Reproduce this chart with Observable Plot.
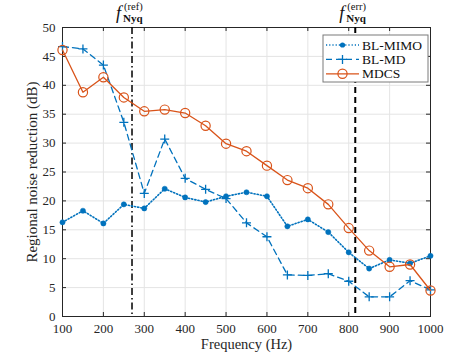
<!DOCTYPE html>
<html>
<head>
<meta charset="utf-8">
<script src="https://cdn.jsdelivr.net/npm/d3@7"></script>
<script src="https://cdn.jsdelivr.net/npm/@observablehq/plot@0.6"></script>
<style>
  html, body { margin: 0; padding: 0; background: #fff; }
  #chart { position: relative; width: 474px; height: 356px; }
</style>
</head>
<body>
<div id="chart"></div>
<script>
const freqs = [100,150,200,250,300,350,400,450,500,550,600,650,700,750,800,850,900,950,1000];
const blMimo = [16.3,18.3,16.1,19.4,18.7,22.1,20.6,19.8,20.8,21.5,20.8,15.6,16.8,14.6,11.1,8.3,9.8,9.2,10.5];
const blMd   = [46.7,46.3,43.5,33.6,21.3,30.7,23.9,22.0,20.4,16.2,13.8,7.2,7.1,7.4,6.1,3.4,3.4,6.2,4.6];
const mdcs   = [46.1,38.8,41.4,37.9,35.5,35.8,35.2,33.0,29.9,28.6,26.1,23.6,22.2,19.4,15.3,11.4,8.6,9.0,4.5];
const seriesNames = ["BL-MIMO","BL-MD","MDCS"];
const nyqFreqs = [270, 816];
const nyqTags = ["(ref)", "(err)"];
const xTicks = [100,200,300,400,500,600,700,800,900,1000];
const yTicks = [0,5,10,15,20,25,30,35,40,45,50];
const xLabel = "Frequency (Hz)";
const yLabel = "Regional noise reduction (dB)";

const blue = "#0072BD", orange = "#D95319";
const font = "'Liberation Serif', 'Times New Roman', serif";

const rows = (vals) => freqs.map((f, i) => ({f, v: vals[i]}));
const mimoRows = rows(blMimo), mdRows = rows(blMd), mdcsRows = rows(mdcs);

const plusSymbol = {
  draw(ctx, size) {
    const s = Math.sqrt(size / Math.PI);
    ctx.moveTo(-s, 0); ctx.lineTo(s, 0);
    ctx.moveTo(0, -s); ctx.lineTo(0, s);
  }
};

const W = 474, H = 356, mL = 62, mR = 44, mT = 27, mB = 40;
const innerW = W - mL - mR, innerH = H - mT - mB;
const tk = 4;

const nyq = nyqFreqs.map((f, i) => ({f, tag: nyqTags[i]}));

const chart = Plot.plot({
  width: W, height: H,
  marginLeft: mL, marginRight: mR, marginTop: mT, marginBottom: mB,
  style: {fontFamily: font, fontSize: "13px", color: "#262626", background: "#fff"},
  x: {domain: [100, 1000]},
  y: {domain: [0, 50]},
  marks: [
    Plot.gridX(xTicks, {stroke: "#e4e4e4", strokeOpacity: 1}),
    Plot.gridY(yTicks, {stroke: "#e4e4e4", strokeOpacity: 1}),
    // inner tick marks (MATLAB style)
    Plot.ruleX(xTicks, {x: d => d, insetTop: innerH - tk, stroke: "#262626"}),
    Plot.ruleX(xTicks, {x: d => d, insetBottom: innerH - tk, stroke: "#262626"}),
    Plot.ruleY(yTicks, {y: d => d, insetRight: innerW - tk, stroke: "#262626"}),
    Plot.ruleY(yTicks, {y: d => d, insetLeft: innerW - tk, stroke: "#262626"}),
    Plot.axisX(xTicks, {tickSize: 0, tickPadding: 7, label: null, fontSize: 13, tickFormat: d => String(d)}),
    Plot.axisY(yTicks, {tickSize: 0, tickPadding: 7, label: null, fontSize: 13, tickFormat: d => String(d)}),
    Plot.frame({stroke: "#262626"}),
    Plot.text([xLabel], {frameAnchor: "bottom", dy: 32, text: d => d, fontSize: 14.5, fill: "#262626"}),
    Plot.text([yLabel], {frameAnchor: "left", textAnchor: "middle", lineAnchor: "middle", rotate: -90, dx: -30, text: d => d, fontSize: 15, fill: "#262626"}),
    // Nyquist markers
    Plot.ruleX([nyq[0]], {x: "f", stroke: "#000", strokeWidth: 1.5, strokeDasharray: "7,3,1.5,3"}),
    Plot.ruleX([nyq[1]], {x: "f", stroke: "#000", strokeWidth: 2, strokeDasharray: "6,4"}),
    Plot.text(nyq, {x: "f", frameAnchor: "top", text: () => "f", fontStyle: "italic", fontSize: 18, textAnchor: "end", lineAnchor: "bottom", dx: -11, dy: -9, fill: "#111"}),
    Plot.text(nyq, {x: "f", frameAnchor: "top", text: () => "Nyq", fontSize: 11, fontWeight: "600", textAnchor: "start", lineAnchor: "bottom", dx: -9, dy: -6, fill: "#111"}),
    Plot.text(nyq, {x: "f", frameAnchor: "top", text: "tag", fontSize: 10.5, textAnchor: "start", lineAnchor: "bottom", dx: -8, dy: -18, fill: "#111"}),
    // series
    Plot.line(mimoRows, {x: "f", y: "v", stroke: blue, strokeWidth: 1.6, strokeDasharray: "1.2,2"}),
    Plot.dot(mimoRows, {x: "f", y: "v", r: 2.6, fill: blue, stroke: blue, strokeWidth: 0.5}),
    Plot.line(mdRows, {x: "f", y: "v", stroke: blue, strokeWidth: 1.3, strokeDasharray: "6,4"}),
    Plot.dot(mdRows, {x: "f", y: "v", r: 4.5, symbol: plusSymbol, stroke: blue, strokeWidth: 1.3, fill: "none"}),
    Plot.line(mdcsRows, {x: "f", y: "v", stroke: orange, strokeWidth: 1.3}),
    Plot.dot(mdcsRows, {x: "f", y: "v", r: 4.6, stroke: orange, strokeWidth: 1.2, fill: "none"})
  ]
});

document.getElementById("chart").appendChild(chart);

// Legend drawn inside the plot area (top-right)
const svg = d3.select(chart);
const lg = svg.append("g").style("font-family", font).style("font-size", "13.5px").attr("text-anchor", "start");
const lx = 323, ly = 35, lw = 105, lh = 47;
lg.append("rect").attr("x", lx).attr("y", ly).attr("width", lw).attr("height", lh)
  .attr("fill", "#fff").attr("stroke", "#7a7a7a").attr("stroke-width", 1);
const styles = [
  {stroke: blue, dash: "1.2,2", w: 1.6, marker: "dot"},
  {stroke: blue, dash: "6,4", w: 1.3, marker: "plus"},
  {stroke: orange, dash: null, w: 1.3, marker: "circle"}
];
seriesNames.forEach((name, i) => {
  const y = ly + 10 + i * 14.4;
  const s = styles[i];
  const l = lg.append("line").attr("x1", lx + 3).attr("x2", lx + 36).attr("y1", y).attr("y2", y)
    .attr("stroke", s.stroke).attr("stroke-width", s.w);
  if (s.dash) l.attr("stroke-dasharray", s.dash);
  const cx = lx + 19.5;
  if (s.marker === "dot") lg.append("circle").attr("cx", cx).attr("cy", y).attr("r", 2.6).attr("fill", s.stroke);
  if (s.marker === "plus") lg.append("path").attr("d", `M${cx-4.5},${y}H${cx+4.5}M${cx},${y-4.5}V${y+4.5}`).attr("stroke", s.stroke).attr("stroke-width", 1.3);
  if (s.marker === "circle") lg.append("circle").attr("cx", cx).attr("cy", y).attr("r", 4.6).attr("fill", "none").attr("stroke", s.stroke).attr("stroke-width", 1.2);
  lg.append("text").attr("x", lx + 39).attr("y", y).attr("dy", "0.34em").attr("text-anchor", "start")
    .style("font-family", font).attr("fill", "#111").text(name);
});
</script>
</body>
</html>
